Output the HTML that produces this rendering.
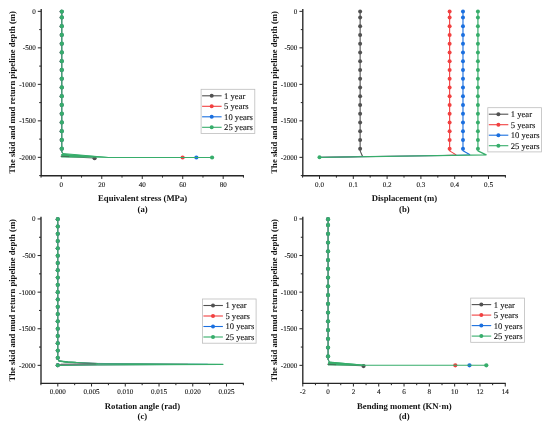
<!DOCTYPE html>
<html><head><meta charset="utf-8"><title>Figure</title>
<style>
html,body{margin:0;padding:0;background:#fff}
svg{display:block}
text{font-family:"Liberation Serif",serif;fill:#111;text-rendering:geometricPrecision}
.t text{font-size:7.1px;stroke:#111;stroke-width:0.1px}
.b{font-size:8.7px;font-weight:bold}
.yt{font-size:8.64px}
.l{font-size:8.6px;stroke:#111;stroke-width:0.1px}
</style></head><body>
<svg width="550" height="424" viewBox="0 0 550 424">
<rect width="550" height="424" fill="#fff"/>
<g stroke="#262626" stroke-width="1.35" fill="none">
<path d="M41.2 9.05V176.42M40.53 175.75H243.94"/>
</g>
<g stroke="#262626" stroke-width="1" fill="none">
<path d="M37.80 11.35H41.2M37.80 47.85H41.2M37.80 84.35H41.2M37.80 120.85H41.2M37.80 157.35H41.2M39.20 29.60H41.2M39.20 66.10H41.2M39.20 102.60H41.2M39.20 139.10H41.2M39.20 175.60H41.2M61.30 175.75V178.95M101.78 175.75V178.95M142.25 175.75V178.95M182.73 175.75V178.95M223.20 175.75V178.95M41.06 175.75V177.65M81.54 175.75V177.65M122.01 175.75V177.65M162.49 175.75V177.65M202.97 175.75V177.65M243.44 175.75V177.65"/>
</g>
<g class="t">
<text x="35.80" y="13.70" text-anchor="end">0</text>
<text x="35.80" y="50.20" text-anchor="end">-500</text>
<text x="35.80" y="86.70" text-anchor="end">-1000</text>
<text x="35.80" y="123.20" text-anchor="end">-1500</text>
<text x="35.80" y="159.70" text-anchor="end">-2000</text>
<text x="61.30" y="186.65" text-anchor="middle">0</text>
<text x="101.78" y="186.65" text-anchor="middle">20</text>
<text x="142.25" y="186.65" text-anchor="middle">40</text>
<text x="182.73" y="186.65" text-anchor="middle">60</text>
<text x="223.20" y="186.65" text-anchor="middle">80</text>
</g>
<text class="b yt" transform="translate(15.35 92.35) rotate(-90)" text-anchor="middle">The skid and mud return pipeline depth (m)</text>
<text class="b" x="142.57" y="201.05" text-anchor="middle">Equivalent stress (MPa)</text>
<text class="b" x="142.57" y="211.55" text-anchor="middle">(a)</text>
<path d="M61.6 11.35V152.35" stroke="#515151" stroke-width="0.7" fill="none" stroke-linejoin="round"/><path d="M60.8 156.35L94.59 158.04999999999998" stroke="#515151" stroke-width="0.9" fill="none" stroke-linejoin="round"/><circle cx="61.50" cy="11.60" r="1.9" fill="#515151"/><circle cx="61.50" cy="17.45" r="1.9" fill="#515151"/><circle cx="61.50" cy="26.20" r="1.9" fill="#515151"/><circle cx="61.50" cy="34.95" r="1.9" fill="#515151"/><circle cx="61.50" cy="43.70" r="1.9" fill="#515151"/><circle cx="61.50" cy="52.45" r="1.9" fill="#515151"/><circle cx="61.50" cy="61.20" r="1.9" fill="#515151"/><circle cx="61.50" cy="69.95" r="1.9" fill="#515151"/><circle cx="61.50" cy="78.70" r="1.9" fill="#515151"/><circle cx="61.50" cy="87.45" r="1.9" fill="#515151"/><circle cx="61.50" cy="96.20" r="1.9" fill="#515151"/><circle cx="61.50" cy="104.95" r="1.9" fill="#515151"/><circle cx="61.50" cy="113.70" r="1.9" fill="#515151"/><circle cx="61.50" cy="122.45" r="1.9" fill="#515151"/><circle cx="61.50" cy="131.20" r="1.9" fill="#515151"/><circle cx="61.50" cy="139.95" r="1.9" fill="#515151"/><circle cx="61.50" cy="148.70" r="1.9" fill="#515151"/><circle cx="94.59" cy="158.20" r="2.1" fill="#515151"/><path d="M61.75 11.35V151.35L62.65 153.54999999999998" stroke="#F14040" stroke-width="0.6" fill="none" stroke-linejoin="round"/><circle cx="61.75" cy="11.60" r="1.9" fill="#F14040"/><circle cx="61.75" cy="17.45" r="1.9" fill="#F14040"/><circle cx="61.75" cy="26.20" r="1.9" fill="#F14040"/><circle cx="61.75" cy="34.95" r="1.9" fill="#F14040"/><circle cx="61.75" cy="43.70" r="1.9" fill="#F14040"/><circle cx="61.75" cy="52.45" r="1.9" fill="#F14040"/><circle cx="61.75" cy="61.20" r="1.9" fill="#F14040"/><circle cx="61.75" cy="69.95" r="1.9" fill="#F14040"/><circle cx="61.75" cy="78.70" r="1.9" fill="#F14040"/><circle cx="61.75" cy="87.45" r="1.9" fill="#F14040"/><circle cx="61.75" cy="96.20" r="1.9" fill="#F14040"/><circle cx="61.75" cy="104.95" r="1.9" fill="#F14040"/><circle cx="61.75" cy="113.70" r="1.9" fill="#F14040"/><circle cx="61.75" cy="122.45" r="1.9" fill="#F14040"/><circle cx="61.75" cy="131.20" r="1.9" fill="#F14040"/><circle cx="61.75" cy="139.95" r="1.9" fill="#F14040"/><circle cx="61.75" cy="148.70" r="1.9" fill="#F14040"/><circle cx="182.63" cy="157.50" r="2.1" fill="#F14040"/><path d="M61.75 11.35V151.35L62.65 153.54999999999998" stroke="#1A6FDF" stroke-width="0.6" fill="none" stroke-linejoin="round"/><circle cx="61.75" cy="11.60" r="1.9" fill="#1A6FDF"/><circle cx="61.75" cy="17.45" r="1.9" fill="#1A6FDF"/><circle cx="61.75" cy="26.20" r="1.9" fill="#1A6FDF"/><circle cx="61.75" cy="34.95" r="1.9" fill="#1A6FDF"/><circle cx="61.75" cy="43.70" r="1.9" fill="#1A6FDF"/><circle cx="61.75" cy="52.45" r="1.9" fill="#1A6FDF"/><circle cx="61.75" cy="61.20" r="1.9" fill="#1A6FDF"/><circle cx="61.75" cy="69.95" r="1.9" fill="#1A6FDF"/><circle cx="61.75" cy="78.70" r="1.9" fill="#1A6FDF"/><circle cx="61.75" cy="87.45" r="1.9" fill="#1A6FDF"/><circle cx="61.75" cy="96.20" r="1.9" fill="#1A6FDF"/><circle cx="61.75" cy="104.95" r="1.9" fill="#1A6FDF"/><circle cx="61.75" cy="113.70" r="1.9" fill="#1A6FDF"/><circle cx="61.75" cy="122.45" r="1.9" fill="#1A6FDF"/><circle cx="61.75" cy="131.20" r="1.9" fill="#1A6FDF"/><circle cx="61.75" cy="139.95" r="1.9" fill="#1A6FDF"/><circle cx="61.75" cy="148.70" r="1.9" fill="#1A6FDF"/><circle cx="196.39" cy="157.50" r="2.1" fill="#1A6FDF"/><path d="M61.849999999999994 11.35V151.35L62.74999999999999 153.54999999999998" stroke="#37AD6B" stroke-width="1.1" fill="none" stroke-linejoin="round"/><path d="M62.74999999999999 153.54999999999998L108.3 157.5H212.07" stroke="#37AD6B" stroke-width="1.1" fill="none" stroke-linejoin="round"/><polygon points="61.20,153.95 63.10,153.65 108.30,156.95 108.30,157.80 61.20,157.60" fill="#37AD6B"/><path d="M60.699999999999996 156.35L69.3 156.65" stroke="#4a4a4a" stroke-width="0.6" fill="none" stroke-linejoin="round"/><circle cx="61.85" cy="11.60" r="2.1" fill="#37AD6B"/><circle cx="61.85" cy="17.45" r="2.1" fill="#37AD6B"/><circle cx="61.85" cy="26.20" r="2.1" fill="#37AD6B"/><circle cx="61.85" cy="34.95" r="2.1" fill="#37AD6B"/><circle cx="61.85" cy="43.70" r="2.1" fill="#37AD6B"/><circle cx="61.85" cy="52.45" r="2.1" fill="#37AD6B"/><circle cx="61.85" cy="61.20" r="2.1" fill="#37AD6B"/><circle cx="61.85" cy="69.95" r="2.1" fill="#37AD6B"/><circle cx="61.85" cy="78.70" r="2.1" fill="#37AD6B"/><circle cx="61.85" cy="87.45" r="2.1" fill="#37AD6B"/><circle cx="61.85" cy="96.20" r="2.1" fill="#37AD6B"/><circle cx="61.85" cy="104.95" r="2.1" fill="#37AD6B"/><circle cx="61.85" cy="113.70" r="2.1" fill="#37AD6B"/><circle cx="61.85" cy="122.45" r="2.1" fill="#37AD6B"/><circle cx="61.85" cy="131.20" r="2.1" fill="#37AD6B"/><circle cx="61.85" cy="139.95" r="2.1" fill="#37AD6B"/><circle cx="61.85" cy="148.70" r="2.1" fill="#37AD6B"/><circle cx="212.07" cy="157.50" r="2.1" fill="#37AD6B"/>
<rect x="201.1" y="89.3" width="53.7" height="44.2" fill="#fff" stroke="#bdbdbd" stroke-width="0.8"/>
<path d="M202.1 95.80H221.6" stroke="#515151" stroke-width="1.1"/>
<circle cx="211.7" cy="95.80" r="2.0" fill="#515151"/>
<text class="l" x="224.1" y="98.70">1 year</text>
<path d="M202.1 106.30H221.6" stroke="#F14040" stroke-width="1.1"/>
<circle cx="211.7" cy="106.30" r="2.0" fill="#F14040"/>
<text class="l" x="224.1" y="109.20">5 years</text>
<path d="M202.1 116.80H221.6" stroke="#1A6FDF" stroke-width="1.1"/>
<circle cx="211.7" cy="116.80" r="2.0" fill="#1A6FDF"/>
<text class="l" x="224.1" y="119.70">10 years</text>
<path d="M202.1 127.30H221.6" stroke="#37AD6B" stroke-width="1.1"/>
<circle cx="211.7" cy="127.30" r="2.0" fill="#37AD6B"/>
<text class="l" x="224.1" y="130.20">25 years</text>
<g stroke="#262626" stroke-width="1.35" fill="none">
<path d="M302.8 9.05V176.42M302.13 175.75H505.90"/>
</g>
<g stroke="#262626" stroke-width="1" fill="none">
<path d="M299.40 11.35H302.8M299.40 47.85H302.8M299.40 84.35H302.8M299.40 120.85H302.8M299.40 157.35H302.8M300.80 29.60H302.8M300.80 66.10H302.8M300.80 102.60H302.8M300.80 139.10H302.8M300.80 175.60H302.8M319.50 175.75V178.95M353.30 175.75V178.95M387.10 175.75V178.95M420.90 175.75V178.95M454.70 175.75V178.95M488.50 175.75V178.95M302.60 175.75V177.65M336.40 175.75V177.65M370.20 175.75V177.65M404.00 175.75V177.65M437.80 175.75V177.65M471.60 175.75V177.65M505.40 175.75V177.65"/>
</g>
<g class="t">
<text x="297.40" y="13.70" text-anchor="end">0</text>
<text x="297.40" y="50.20" text-anchor="end">-500</text>
<text x="297.40" y="86.70" text-anchor="end">-1000</text>
<text x="297.40" y="123.20" text-anchor="end">-1500</text>
<text x="297.40" y="159.70" text-anchor="end">-2000</text>
<text x="319.50" y="186.65" text-anchor="middle">0.0</text>
<text x="353.30" y="186.65" text-anchor="middle">0.1</text>
<text x="387.10" y="186.65" text-anchor="middle">0.2</text>
<text x="420.90" y="186.65" text-anchor="middle">0.3</text>
<text x="454.70" y="186.65" text-anchor="middle">0.4</text>
<text x="488.50" y="186.65" text-anchor="middle">0.5</text>
</g>
<text class="b yt" transform="translate(276.65 92.35) rotate(-90)" text-anchor="middle">The skid and mud return pipeline depth (m)</text>
<text class="b" x="404.35" y="201.05" text-anchor="middle">Displacement (m)</text>
<text class="b" x="404.35" y="211.55" text-anchor="middle">(b)</text>
<path d="M360.13 11.35V150.85L362.49 156.31" stroke="#515151" stroke-width="1.1" fill="none" stroke-linejoin="round"/><path d="M362.49 156.31L350.49 156.89L319.50 157.35" stroke="#515151" stroke-width="0.7" fill="none" stroke-linejoin="round"/><circle cx="360.13" cy="11.60" r="2.0" fill="#515151"/><circle cx="360.13" cy="17.45" r="2.0" fill="#515151"/><circle cx="360.13" cy="26.20" r="2.0" fill="#515151"/><circle cx="360.13" cy="34.95" r="2.0" fill="#515151"/><circle cx="360.13" cy="43.70" r="2.0" fill="#515151"/><circle cx="360.13" cy="52.45" r="2.0" fill="#515151"/><circle cx="360.13" cy="61.20" r="2.0" fill="#515151"/><circle cx="360.13" cy="69.95" r="2.0" fill="#515151"/><circle cx="360.13" cy="78.70" r="2.0" fill="#515151"/><circle cx="360.13" cy="87.45" r="2.0" fill="#515151"/><circle cx="360.13" cy="96.20" r="2.0" fill="#515151"/><circle cx="360.13" cy="104.95" r="2.0" fill="#515151"/><circle cx="360.13" cy="113.70" r="2.0" fill="#515151"/><circle cx="360.13" cy="122.45" r="2.0" fill="#515151"/><circle cx="360.13" cy="131.20" r="2.0" fill="#515151"/><circle cx="360.13" cy="139.95" r="2.0" fill="#515151"/><circle cx="360.13" cy="148.70" r="2.0" fill="#515151"/><path d="M449.63 11.35V150.85L456.22 154.90" stroke="#F14040" stroke-width="1.1" fill="none" stroke-linejoin="round"/><path d="M456.22 154.90L444.22 155.48L319.50 157.35" stroke="#F14040" stroke-width="0.7" fill="none" stroke-linejoin="round"/><circle cx="449.63" cy="11.60" r="2.0" fill="#F14040"/><circle cx="449.63" cy="17.45" r="2.0" fill="#F14040"/><circle cx="449.63" cy="26.20" r="2.0" fill="#F14040"/><circle cx="449.63" cy="34.95" r="2.0" fill="#F14040"/><circle cx="449.63" cy="43.70" r="2.0" fill="#F14040"/><circle cx="449.63" cy="52.45" r="2.0" fill="#F14040"/><circle cx="449.63" cy="61.20" r="2.0" fill="#F14040"/><circle cx="449.63" cy="69.95" r="2.0" fill="#F14040"/><circle cx="449.63" cy="78.70" r="2.0" fill="#F14040"/><circle cx="449.63" cy="87.45" r="2.0" fill="#F14040"/><circle cx="449.63" cy="96.20" r="2.0" fill="#F14040"/><circle cx="449.63" cy="104.95" r="2.0" fill="#F14040"/><circle cx="449.63" cy="113.70" r="2.0" fill="#F14040"/><circle cx="449.63" cy="122.45" r="2.0" fill="#F14040"/><circle cx="449.63" cy="131.20" r="2.0" fill="#F14040"/><circle cx="449.63" cy="139.95" r="2.0" fill="#F14040"/><circle cx="449.63" cy="148.70" r="2.0" fill="#F14040"/><path d="M462.98 11.35V150.85L470.08 154.69" stroke="#1A6FDF" stroke-width="1.1" fill="none" stroke-linejoin="round"/><path d="M470.08 154.69L458.08 155.27L319.50 157.35" stroke="#1A6FDF" stroke-width="0.7" fill="none" stroke-linejoin="round"/><circle cx="462.98" cy="11.60" r="2.0" fill="#1A6FDF"/><circle cx="462.98" cy="17.45" r="2.0" fill="#1A6FDF"/><circle cx="462.98" cy="26.20" r="2.0" fill="#1A6FDF"/><circle cx="462.98" cy="34.95" r="2.0" fill="#1A6FDF"/><circle cx="462.98" cy="43.70" r="2.0" fill="#1A6FDF"/><circle cx="462.98" cy="52.45" r="2.0" fill="#1A6FDF"/><circle cx="462.98" cy="61.20" r="2.0" fill="#1A6FDF"/><circle cx="462.98" cy="69.95" r="2.0" fill="#1A6FDF"/><circle cx="462.98" cy="78.70" r="2.0" fill="#1A6FDF"/><circle cx="462.98" cy="87.45" r="2.0" fill="#1A6FDF"/><circle cx="462.98" cy="96.20" r="2.0" fill="#1A6FDF"/><circle cx="462.98" cy="104.95" r="2.0" fill="#1A6FDF"/><circle cx="462.98" cy="113.70" r="2.0" fill="#1A6FDF"/><circle cx="462.98" cy="122.45" r="2.0" fill="#1A6FDF"/><circle cx="462.98" cy="131.20" r="2.0" fill="#1A6FDF"/><circle cx="462.98" cy="139.95" r="2.0" fill="#1A6FDF"/><circle cx="462.98" cy="148.70" r="2.0" fill="#1A6FDF"/><path d="M477.92 11.35V150.85L486.20 154.85L319.50 157.35" stroke="#37AD6B" stroke-width="1.2" fill="none" stroke-linejoin="round"/><circle cx="477.92" cy="11.60" r="2.0" fill="#37AD6B"/><circle cx="477.92" cy="17.45" r="2.0" fill="#37AD6B"/><circle cx="477.92" cy="26.20" r="2.0" fill="#37AD6B"/><circle cx="477.92" cy="34.95" r="2.0" fill="#37AD6B"/><circle cx="477.92" cy="43.70" r="2.0" fill="#37AD6B"/><circle cx="477.92" cy="52.45" r="2.0" fill="#37AD6B"/><circle cx="477.92" cy="61.20" r="2.0" fill="#37AD6B"/><circle cx="477.92" cy="69.95" r="2.0" fill="#37AD6B"/><circle cx="477.92" cy="78.70" r="2.0" fill="#37AD6B"/><circle cx="477.92" cy="87.45" r="2.0" fill="#37AD6B"/><circle cx="477.92" cy="96.20" r="2.0" fill="#37AD6B"/><circle cx="477.92" cy="104.95" r="2.0" fill="#37AD6B"/><circle cx="477.92" cy="113.70" r="2.0" fill="#37AD6B"/><circle cx="477.92" cy="122.45" r="2.0" fill="#37AD6B"/><circle cx="477.92" cy="131.20" r="2.0" fill="#37AD6B"/><circle cx="477.92" cy="139.95" r="2.0" fill="#37AD6B"/><circle cx="477.92" cy="148.70" r="2.0" fill="#37AD6B"/><circle cx="319.50" cy="157.35" r="2.0" fill="#37AD6B"/>
<rect x="487.8" y="107.7" width="53.7" height="44.2" fill="#fff" stroke="#bdbdbd" stroke-width="0.8"/>
<path d="M488.8 114.20H508.3" stroke="#515151" stroke-width="1.1"/>
<circle cx="498.40000000000003" cy="114.20" r="2.0" fill="#515151"/>
<text class="l" x="510.8" y="117.10">1 year</text>
<path d="M488.8 124.70H508.3" stroke="#F14040" stroke-width="1.1"/>
<circle cx="498.40000000000003" cy="124.70" r="2.0" fill="#F14040"/>
<text class="l" x="510.8" y="127.60">5 years</text>
<path d="M488.8 135.20H508.3" stroke="#1A6FDF" stroke-width="1.1"/>
<circle cx="498.40000000000003" cy="135.20" r="2.0" fill="#1A6FDF"/>
<text class="l" x="510.8" y="138.10">10 years</text>
<path d="M488.8 145.70H508.3" stroke="#37AD6B" stroke-width="1.1"/>
<circle cx="498.40000000000003" cy="145.70" r="2.0" fill="#37AD6B"/>
<text class="l" x="510.8" y="148.60">25 years</text>
<g stroke="#262626" stroke-width="1.35" fill="none">
<path d="M41.0 216.65V383.97M40.33 383.3H243.87"/>
</g>
<g stroke="#262626" stroke-width="1" fill="none">
<path d="M37.60 218.95H41.0M37.60 255.55H41.0M37.60 292.15H41.0M37.60 328.75H41.0M37.60 365.35H41.0M39.00 237.25H41.0M39.00 273.85H41.0M39.00 310.45H41.0M39.00 347.05H41.0M57.80 383.3V386.50M91.54 383.3V386.50M125.28 383.3V386.50M159.02 383.3V386.50M192.76 383.3V386.50M226.50 383.3V386.50M40.93 383.3V385.20M74.67 383.3V385.20M108.41 383.3V385.20M142.15 383.3V385.20M175.89 383.3V385.20M209.63 383.3V385.20M243.37 383.3V385.20"/>
</g>
<g class="t">
<text x="35.60" y="221.30" text-anchor="end">0</text>
<text x="35.60" y="257.90" text-anchor="end">-500</text>
<text x="35.60" y="294.50" text-anchor="end">-1000</text>
<text x="35.60" y="331.10" text-anchor="end">-1500</text>
<text x="35.60" y="367.70" text-anchor="end">-2000</text>
<text x="57.80" y="394.20" text-anchor="middle">0.000</text>
<text x="91.54" y="394.20" text-anchor="middle">0.005</text>
<text x="125.28" y="394.20" text-anchor="middle">0.010</text>
<text x="159.02" y="394.20" text-anchor="middle">0.015</text>
<text x="192.76" y="394.20" text-anchor="middle">0.020</text>
<text x="226.50" y="394.20" text-anchor="middle">0.025</text>
</g>
<text class="b yt" transform="translate(15.35 300.30) rotate(-90)" text-anchor="middle">The skid and mud return pipeline depth (m)</text>
<text class="b" x="142.44" y="408.60" text-anchor="middle">Rotation angle (rad)</text>
<text class="b" x="142.44" y="419.10" text-anchor="middle">(c)</text>
<path d="M57.699999999999996 218.95V358.95L58.8 360.95L67.8 362.25L97.8 363.85L57.8 364.54999999999995" stroke="#515151" stroke-width="0.7" fill="none" stroke-linejoin="round"/><circle cx="57.60" cy="219.15" r="1.9" fill="#515151"/><circle cx="57.60" cy="226.45" r="1.9" fill="#515151"/><circle cx="57.60" cy="233.75" r="1.9" fill="#515151"/><circle cx="57.60" cy="241.05" r="1.9" fill="#515151"/><circle cx="57.60" cy="248.35" r="1.9" fill="#515151"/><circle cx="57.60" cy="255.65" r="1.9" fill="#515151"/><circle cx="57.60" cy="262.95" r="1.9" fill="#515151"/><circle cx="57.60" cy="270.25" r="1.9" fill="#515151"/><circle cx="57.60" cy="277.55" r="1.9" fill="#515151"/><circle cx="57.60" cy="284.85" r="1.9" fill="#515151"/><circle cx="57.60" cy="292.15" r="1.9" fill="#515151"/><circle cx="57.60" cy="299.45" r="1.9" fill="#515151"/><circle cx="57.60" cy="306.75" r="1.9" fill="#515151"/><circle cx="57.60" cy="314.05" r="1.9" fill="#515151"/><circle cx="57.60" cy="321.35" r="1.9" fill="#515151"/><circle cx="57.60" cy="328.65" r="1.9" fill="#515151"/><circle cx="57.60" cy="335.95" r="1.9" fill="#515151"/><circle cx="57.60" cy="343.25" r="1.9" fill="#515151"/><circle cx="57.60" cy="350.55" r="1.9" fill="#515151"/><circle cx="57.60" cy="357.85" r="1.9" fill="#515151"/><circle cx="57.60" cy="365.25" r="1.9" fill="#515151"/><path d="M57.8 218.95V358.95L58.8 360.95L67.8 362.15L97.8 363.45L187.8 364.35L97.8 364.85L57.8 365.35" stroke="#F14040" stroke-width="0.6" fill="none" stroke-linejoin="round"/><circle cx="57.80" cy="219.15" r="1.9" fill="#F14040"/><circle cx="57.80" cy="226.45" r="1.9" fill="#F14040"/><circle cx="57.80" cy="233.75" r="1.9" fill="#F14040"/><circle cx="57.80" cy="241.05" r="1.9" fill="#F14040"/><circle cx="57.80" cy="248.35" r="1.9" fill="#F14040"/><circle cx="57.80" cy="255.65" r="1.9" fill="#F14040"/><circle cx="57.80" cy="262.95" r="1.9" fill="#F14040"/><circle cx="57.80" cy="270.25" r="1.9" fill="#F14040"/><circle cx="57.80" cy="277.55" r="1.9" fill="#F14040"/><circle cx="57.80" cy="284.85" r="1.9" fill="#F14040"/><circle cx="57.80" cy="292.15" r="1.9" fill="#F14040"/><circle cx="57.80" cy="299.45" r="1.9" fill="#F14040"/><circle cx="57.80" cy="306.75" r="1.9" fill="#F14040"/><circle cx="57.80" cy="314.05" r="1.9" fill="#F14040"/><circle cx="57.80" cy="321.35" r="1.9" fill="#F14040"/><circle cx="57.80" cy="328.65" r="1.9" fill="#F14040"/><circle cx="57.80" cy="335.95" r="1.9" fill="#F14040"/><circle cx="57.80" cy="343.25" r="1.9" fill="#F14040"/><circle cx="57.80" cy="350.55" r="1.9" fill="#F14040"/><circle cx="57.80" cy="357.85" r="1.9" fill="#F14040"/><circle cx="57.80" cy="365.25" r="1.9" fill="#F14040"/><path d="M57.8 218.95V358.95L58.8 360.95L67.8 362.15L97.8 363.45L207.8 364.35L97.8 364.85L57.8 365.35" stroke="#1A6FDF" stroke-width="0.6" fill="none" stroke-linejoin="round"/><circle cx="57.80" cy="219.15" r="1.9" fill="#1A6FDF"/><circle cx="57.80" cy="226.45" r="1.9" fill="#1A6FDF"/><circle cx="57.80" cy="233.75" r="1.9" fill="#1A6FDF"/><circle cx="57.80" cy="241.05" r="1.9" fill="#1A6FDF"/><circle cx="57.80" cy="248.35" r="1.9" fill="#1A6FDF"/><circle cx="57.80" cy="255.65" r="1.9" fill="#1A6FDF"/><circle cx="57.80" cy="262.95" r="1.9" fill="#1A6FDF"/><circle cx="57.80" cy="270.25" r="1.9" fill="#1A6FDF"/><circle cx="57.80" cy="277.55" r="1.9" fill="#1A6FDF"/><circle cx="57.80" cy="284.85" r="1.9" fill="#1A6FDF"/><circle cx="57.80" cy="292.15" r="1.9" fill="#1A6FDF"/><circle cx="57.80" cy="299.45" r="1.9" fill="#1A6FDF"/><circle cx="57.80" cy="306.75" r="1.9" fill="#1A6FDF"/><circle cx="57.80" cy="314.05" r="1.9" fill="#1A6FDF"/><circle cx="57.80" cy="321.35" r="1.9" fill="#1A6FDF"/><circle cx="57.80" cy="328.65" r="1.9" fill="#1A6FDF"/><circle cx="57.80" cy="335.95" r="1.9" fill="#1A6FDF"/><circle cx="57.80" cy="343.25" r="1.9" fill="#1A6FDF"/><circle cx="57.80" cy="350.55" r="1.9" fill="#1A6FDF"/><circle cx="57.80" cy="357.85" r="1.9" fill="#1A6FDF"/><circle cx="57.80" cy="365.25" r="1.9" fill="#1A6FDF"/><path d="M57.8 218.95V358.95L58.8 360.95L67.8 362.15L97.8 363.45L223.0 364.35L97.8 364.85L57.8 365.35" stroke="#37AD6B" stroke-width="1.1" fill="none" stroke-linejoin="round"/><path d="M58.8 360.95L67.8 362.15L75.8 362.54999999999995" stroke="#37AD6B" stroke-width="1.6" fill="none" stroke-linejoin="round"/><path d="M95.8 363.95L60.8 363.95" stroke="#555" stroke-width="0.5" fill="none" stroke-linejoin="round"/><circle cx="57.80" cy="219.15" r="2.05" fill="#37AD6B"/><circle cx="57.80" cy="226.45" r="2.05" fill="#37AD6B"/><circle cx="57.80" cy="233.75" r="2.05" fill="#37AD6B"/><circle cx="57.80" cy="241.05" r="2.05" fill="#37AD6B"/><circle cx="57.80" cy="248.35" r="2.05" fill="#37AD6B"/><circle cx="57.80" cy="255.65" r="2.05" fill="#37AD6B"/><circle cx="57.80" cy="262.95" r="2.05" fill="#37AD6B"/><circle cx="57.80" cy="270.25" r="2.05" fill="#37AD6B"/><circle cx="57.80" cy="277.55" r="2.05" fill="#37AD6B"/><circle cx="57.80" cy="284.85" r="2.05" fill="#37AD6B"/><circle cx="57.80" cy="292.15" r="2.05" fill="#37AD6B"/><circle cx="57.80" cy="299.45" r="2.05" fill="#37AD6B"/><circle cx="57.80" cy="306.75" r="2.05" fill="#37AD6B"/><circle cx="57.80" cy="314.05" r="2.05" fill="#37AD6B"/><circle cx="57.80" cy="321.35" r="2.05" fill="#37AD6B"/><circle cx="57.80" cy="328.65" r="2.05" fill="#37AD6B"/><circle cx="57.80" cy="335.95" r="2.05" fill="#37AD6B"/><circle cx="57.80" cy="343.25" r="2.05" fill="#37AD6B"/><circle cx="57.80" cy="350.55" r="2.05" fill="#37AD6B"/><circle cx="57.80" cy="357.85" r="2.05" fill="#37AD6B"/><circle cx="57.80" cy="365.25" r="2.05" fill="#37AD6B"/>
<rect x="202.4" y="299.0" width="53.7" height="44.2" fill="#fff" stroke="#bdbdbd" stroke-width="0.8"/>
<path d="M203.4 305.50H222.9" stroke="#515151" stroke-width="1.1"/>
<circle cx="213.0" cy="305.50" r="2.0" fill="#515151"/>
<text class="l" x="225.4" y="308.40">1 year</text>
<path d="M203.4 316.00H222.9" stroke="#F14040" stroke-width="1.1"/>
<circle cx="213.0" cy="316.00" r="2.0" fill="#F14040"/>
<text class="l" x="225.4" y="318.90">5 years</text>
<path d="M203.4 326.50H222.9" stroke="#1A6FDF" stroke-width="1.1"/>
<circle cx="213.0" cy="326.50" r="2.0" fill="#1A6FDF"/>
<text class="l" x="225.4" y="329.40">10 years</text>
<path d="M203.4 337.00H222.9" stroke="#37AD6B" stroke-width="1.1"/>
<circle cx="213.0" cy="337.00" r="2.0" fill="#37AD6B"/>
<text class="l" x="225.4" y="339.90">25 years</text>
<g stroke="#262626" stroke-width="1.35" fill="none">
<path d="M302.8 216.65V383.97M302.13 383.3H505.78"/>
</g>
<g stroke="#262626" stroke-width="1" fill="none">
<path d="M299.40 218.95H302.8M299.40 255.55H302.8M299.40 292.15H302.8M299.40 328.75H302.8M299.40 365.35H302.8M300.80 237.25H302.8M300.80 273.85H302.8M300.80 310.45H302.8M300.80 347.05H302.8M302.79 383.3V386.50M328.10 383.3V386.50M353.41 383.3V386.50M378.72 383.3V386.50M404.04 383.3V386.50M429.35 383.3V386.50M454.66 383.3V386.50M479.97 383.3V386.50M505.28 383.3V386.50M315.44 383.3V385.20M340.76 383.3V385.20M366.07 383.3V385.20M391.38 383.3V385.20M416.69 383.3V385.20M442.00 383.3V385.20M467.32 383.3V385.20M492.63 383.3V385.20"/>
</g>
<g class="t">
<text x="297.40" y="221.30" text-anchor="end">0</text>
<text x="297.40" y="257.90" text-anchor="end">-500</text>
<text x="297.40" y="294.50" text-anchor="end">-1000</text>
<text x="297.40" y="331.10" text-anchor="end">-1500</text>
<text x="297.40" y="367.70" text-anchor="end">-2000</text>
<text x="302.79" y="394.20" text-anchor="middle">-2</text>
<text x="328.10" y="394.20" text-anchor="middle">0</text>
<text x="353.41" y="394.20" text-anchor="middle">2</text>
<text x="378.72" y="394.20" text-anchor="middle">4</text>
<text x="404.04" y="394.20" text-anchor="middle">6</text>
<text x="429.35" y="394.20" text-anchor="middle">8</text>
<text x="454.66" y="394.20" text-anchor="middle">10</text>
<text x="479.97" y="394.20" text-anchor="middle">12</text>
<text x="505.28" y="394.20" text-anchor="middle">14</text>
</g>
<text class="b yt" transform="translate(276.65 300.30) rotate(-90)" text-anchor="middle">The skid and mud return pipeline depth (m)</text>
<text class="b" x="404.29" y="408.60" text-anchor="middle">Bending moment (KN·m)</text>
<text class="b" x="404.29" y="419.10" text-anchor="middle">(d)</text>
<path d="M328.0 218.95V359.95" stroke="#515151" stroke-width="0.7" fill="none" stroke-linejoin="round"/><path d="M327.5 364.25L363.54 365.85" stroke="#515151" stroke-width="0.9" fill="none" stroke-linejoin="round"/><circle cx="327.85" cy="219.20" r="1.9" fill="#515151"/><circle cx="327.85" cy="225.05" r="1.9" fill="#515151"/><circle cx="327.85" cy="233.80" r="1.9" fill="#515151"/><circle cx="327.85" cy="242.55" r="1.9" fill="#515151"/><circle cx="327.85" cy="251.30" r="1.9" fill="#515151"/><circle cx="327.85" cy="260.05" r="1.9" fill="#515151"/><circle cx="327.85" cy="268.80" r="1.9" fill="#515151"/><circle cx="327.85" cy="277.55" r="1.9" fill="#515151"/><circle cx="327.85" cy="286.30" r="1.9" fill="#515151"/><circle cx="327.85" cy="295.05" r="1.9" fill="#515151"/><circle cx="327.85" cy="303.80" r="1.9" fill="#515151"/><circle cx="327.85" cy="312.55" r="1.9" fill="#515151"/><circle cx="327.85" cy="321.30" r="1.9" fill="#515151"/><circle cx="327.85" cy="330.05" r="1.9" fill="#515151"/><circle cx="327.85" cy="338.80" r="1.9" fill="#515151"/><circle cx="327.85" cy="347.55" r="1.9" fill="#515151"/><circle cx="327.85" cy="356.30" r="1.9" fill="#515151"/><circle cx="363.54" cy="366.10" r="2.1" fill="#515151"/><path d="M328.1 218.95V359.45L329.40000000000003 362.04999999999995" stroke="#F14040" stroke-width="0.6" fill="none" stroke-linejoin="round"/><circle cx="328.10" cy="219.20" r="1.9" fill="#F14040"/><circle cx="328.10" cy="225.05" r="1.9" fill="#F14040"/><circle cx="328.10" cy="233.80" r="1.9" fill="#F14040"/><circle cx="328.10" cy="242.55" r="1.9" fill="#F14040"/><circle cx="328.10" cy="251.30" r="1.9" fill="#F14040"/><circle cx="328.10" cy="260.05" r="1.9" fill="#F14040"/><circle cx="328.10" cy="268.80" r="1.9" fill="#F14040"/><circle cx="328.10" cy="277.55" r="1.9" fill="#F14040"/><circle cx="328.10" cy="286.30" r="1.9" fill="#F14040"/><circle cx="328.10" cy="295.05" r="1.9" fill="#F14040"/><circle cx="328.10" cy="303.80" r="1.9" fill="#F14040"/><circle cx="328.10" cy="312.55" r="1.9" fill="#F14040"/><circle cx="328.10" cy="321.30" r="1.9" fill="#F14040"/><circle cx="328.10" cy="330.05" r="1.9" fill="#F14040"/><circle cx="328.10" cy="338.80" r="1.9" fill="#F14040"/><circle cx="328.10" cy="347.55" r="1.9" fill="#F14040"/><circle cx="328.10" cy="356.30" r="1.9" fill="#F14040"/><circle cx="455.29" cy="365.30" r="2.1" fill="#F14040"/><path d="M328.1 218.95V359.45L329.40000000000003 362.04999999999995" stroke="#1A6FDF" stroke-width="0.6" fill="none" stroke-linejoin="round"/><circle cx="328.10" cy="219.20" r="1.9" fill="#1A6FDF"/><circle cx="328.10" cy="225.05" r="1.9" fill="#1A6FDF"/><circle cx="328.10" cy="233.80" r="1.9" fill="#1A6FDF"/><circle cx="328.10" cy="242.55" r="1.9" fill="#1A6FDF"/><circle cx="328.10" cy="251.30" r="1.9" fill="#1A6FDF"/><circle cx="328.10" cy="260.05" r="1.9" fill="#1A6FDF"/><circle cx="328.10" cy="268.80" r="1.9" fill="#1A6FDF"/><circle cx="328.10" cy="277.55" r="1.9" fill="#1A6FDF"/><circle cx="328.10" cy="286.30" r="1.9" fill="#1A6FDF"/><circle cx="328.10" cy="295.05" r="1.9" fill="#1A6FDF"/><circle cx="328.10" cy="303.80" r="1.9" fill="#1A6FDF"/><circle cx="328.10" cy="312.55" r="1.9" fill="#1A6FDF"/><circle cx="328.10" cy="321.30" r="1.9" fill="#1A6FDF"/><circle cx="328.10" cy="330.05" r="1.9" fill="#1A6FDF"/><circle cx="328.10" cy="338.80" r="1.9" fill="#1A6FDF"/><circle cx="328.10" cy="347.55" r="1.9" fill="#1A6FDF"/><circle cx="328.10" cy="356.30" r="1.9" fill="#1A6FDF"/><circle cx="469.47" cy="365.30" r="2.1" fill="#1A6FDF"/><path d="M328.1 218.95V359.45L329.40000000000003 362.04999999999995" stroke="#37AD6B" stroke-width="1.1" fill="none" stroke-linejoin="round"/><path d="M329.40000000000003 362.04999999999995L365.1 365.19999999999993H486.30" stroke="#37AD6B" stroke-width="1.1" fill="none" stroke-linejoin="round"/><polygon points="328.00,362.15 329.90,361.85 365.10,364.65 365.10,365.70 328.00,365.40" fill="#37AD6B"/><path d="M327.5 364.35L336.1 364.75" stroke="#4a4a4a" stroke-width="0.6" fill="none" stroke-linejoin="round"/><circle cx="328.10" cy="219.20" r="2.1" fill="#37AD6B"/><circle cx="328.10" cy="225.05" r="2.1" fill="#37AD6B"/><circle cx="328.10" cy="233.80" r="2.1" fill="#37AD6B"/><circle cx="328.10" cy="242.55" r="2.1" fill="#37AD6B"/><circle cx="328.10" cy="251.30" r="2.1" fill="#37AD6B"/><circle cx="328.10" cy="260.05" r="2.1" fill="#37AD6B"/><circle cx="328.10" cy="268.80" r="2.1" fill="#37AD6B"/><circle cx="328.10" cy="277.55" r="2.1" fill="#37AD6B"/><circle cx="328.10" cy="286.30" r="2.1" fill="#37AD6B"/><circle cx="328.10" cy="295.05" r="2.1" fill="#37AD6B"/><circle cx="328.10" cy="303.80" r="2.1" fill="#37AD6B"/><circle cx="328.10" cy="312.55" r="2.1" fill="#37AD6B"/><circle cx="328.10" cy="321.30" r="2.1" fill="#37AD6B"/><circle cx="328.10" cy="330.05" r="2.1" fill="#37AD6B"/><circle cx="328.10" cy="338.80" r="2.1" fill="#37AD6B"/><circle cx="328.10" cy="347.55" r="2.1" fill="#37AD6B"/><circle cx="328.10" cy="356.30" r="2.1" fill="#37AD6B"/><circle cx="486.30" cy="365.30" r="2.1" fill="#37AD6B"/>
<rect x="470.7" y="298.1" width="53.7" height="44.2" fill="#fff" stroke="#bdbdbd" stroke-width="0.8"/>
<path d="M471.7 304.60H491.2" stroke="#515151" stroke-width="1.1"/>
<circle cx="481.3" cy="304.60" r="2.0" fill="#515151"/>
<text class="l" x="493.7" y="307.50">1 year</text>
<path d="M471.7 315.10H491.2" stroke="#F14040" stroke-width="1.1"/>
<circle cx="481.3" cy="315.10" r="2.0" fill="#F14040"/>
<text class="l" x="493.7" y="318.00">5 years</text>
<path d="M471.7 325.60H491.2" stroke="#1A6FDF" stroke-width="1.1"/>
<circle cx="481.3" cy="325.60" r="2.0" fill="#1A6FDF"/>
<text class="l" x="493.7" y="328.50">10 years</text>
<path d="M471.7 336.10H491.2" stroke="#37AD6B" stroke-width="1.1"/>
<circle cx="481.3" cy="336.10" r="2.0" fill="#37AD6B"/>
<text class="l" x="493.7" y="339.00">25 years</text>
</svg></body></html>
